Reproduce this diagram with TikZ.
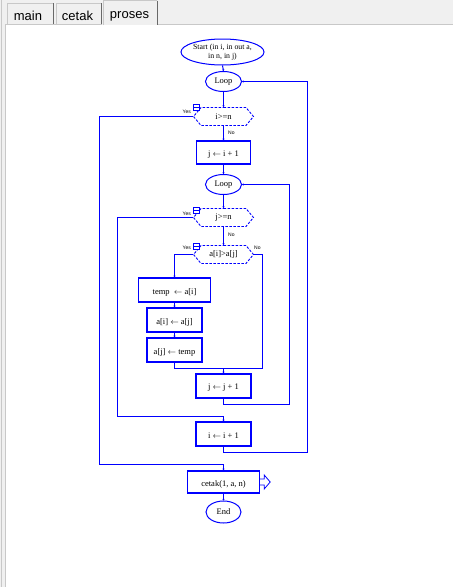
\documentclass[tikz,border=0pt]{standalone}
\usepackage{fontspec}
\setmainfont{Liberation Serif}
\newfontfamily\uifont{Liberation Sans}
\usetikzlibrary{shapes.geometric,shapes.symbols,arrows.meta}
\definecolor{fcblue}{RGB}{0,0,255}
\definecolor{uigray}{RGB}{240,240,240}
\definecolor{uidark}{RGB}{105,105,105}
\definecolor{uilight}{RGB}{200,200,200}
\newcommand{\lowtext}[1]{\raisebox{-2pt}[\height][\depth]{#1}}
\tikzset{
  fc/.style={draw=fcblue, line width=1pt},
  term/.style={ellipse, draw=fcblue, line width=1pt, inner sep=0pt, font=\fontsize{8.5}{9}\selectfont, align=center},
  procbox/.style={rectangle, draw=fcblue, line width=1.4pt, inner sep=0pt, font=\fontsize{8.5}{9}\selectfont},
  decis/.style={signal, signal to=east and west, signal pointer angle=100, draw=fcblue, dash pattern=on 2.5pt off 1.5pt, line width=0.9pt, minimum width=60pt, minimum height=18pt, inner sep=0pt, font=\fontsize{8.5}{9}\selectfont},
  conn/.style={draw=fcblue, line width=1pt, -{Stealth[length=1.6pt,width=2.2pt]}},
  tiny/.style={font=\fontsize{5}{5}\selectfont\uifont, inner sep=0pt},
  tabtext/.style={font=\fontsize{13}{14}\selectfont\uifont, inner sep=0pt},
  icon/.style={draw=fcblue, line width=0.8pt, fill=white}
}
\begin{document}
\begin{tikzpicture}[x=1pt,y=-1pt]
\useasboundingbox (0,0) rectangle (453,587);
\fill[white] (0,0) rectangle (453,587);
% tab strip
\fill[uigray] (0,0) rectangle (453,25);
\fill[uigray] (0,0) rectangle (5,587);
\draw[uilight, line width=0.8pt] (5.5,25) -- (5.5,587);
\draw[uilight, line width=0.8pt] (1.5,0) -- (1.5,587);
\draw[uilight, line width=0.8pt] (5,24.5) -- (102,24.5);
\draw[uilight, line width=0.8pt] (158,24.5) -- (453,24.5);
% tabs
\draw[uilight, line width=0.8pt] (7,25) -- (7,3) -- (53,3);
\draw[uidark, line width=1pt] (53.5,3) -- (53.5,24);
\draw[uilight, line width=0.8pt] (56,25) -- (56,3) -- (101,3);
\draw[uidark, line width=1pt] (101.5,3) -- (101.5,24);
\draw[uilight, line width=0.8pt] (103,25) -- (103,0.5) -- (157,0.5);
\draw[uidark, line width=1pt] (157.5,0.5) -- (157.5,25);
\node[tabtext, anchor=base] (tmain) at (28,20) {main};
\node[tabtext, anchor=base] (tcetak) at (77.5,20) {cetak};
\node[tabtext, anchor=base] (tproses) at (129.5,18) {proses};

% flowchart nodes
\node[term, minimum width=74pt, minimum height=26pt, font=\fontsize{7.8}{8.5}\selectfont] (start) at (222.5,52) {Start (in i, in out a,\\ in n, in j)};
\node[term, minimum width=36pt, minimum height=20pt] (loop1) at (223.5,81.5) {Loop};
\node[decis] (d1) at (223.5,116.5) {i>=n};
\node[procbox, minimum width=54pt, minimum height=23pt] (b1) at (223.5,152.5) {\lowtext{j $\leftarrow$ i + 1}};
\node[term, minimum width=36pt, minimum height=20pt] (loop2) at (223.5,184.5) {Loop};
\node[decis] (d2) at (223.5,217.5) {j>=n};
\node[decis] (d3) at (223.5,254.5) {a[i]>a[j]};
\node[procbox, minimum width=72pt, minimum height=24pt] (temp) at (174.5,290) {\lowtext{temp \ $\leftarrow$ a[i]}};
\node[procbox, minimum width=55pt, minimum height=24pt] (b2) at (174.5,320) {\lowtext{a[i] $\leftarrow$ a[j]}};
\node[procbox, minimum width=55pt, minimum height=24pt] (b3) at (174.5,350) {\lowtext{a[j] $\leftarrow$ temp}};
\node[procbox, minimum width=55pt, minimum height=24pt] (b4) at (223.5,386) {\lowtext{j $\leftarrow$ j + 1}};
\node[procbox, minimum width=55pt, minimum height=24pt] (b5) at (223.5,434) {\lowtext{i $\leftarrow$ i + 1}};
\node[procbox, minimum width=72pt, minimum height=22pt] (cetak) at (223.5,482) {\lowtext{cetak(1, a, n)}};
\node[term, minimum width=35pt, minimum height=22pt] (end) at (223.5,512) {End};

% join coordinates
\coordinate (m1) at (174.5,368.5);
\coordinate (m2) at (262.5,368.5);
\coordinate (jm) at (223.5,368.5);
\coordinate (r2) at (289.5,404.5);
\coordinate (l2) at (117.5,416.5);
\coordinate (r1) at (307.5,452.5);
\coordinate (l1) at (99.5,464.5);

% connectors
\draw[conn] (start.south) -- (loop1.north);
\draw[conn] (loop1.south) -- (d1.north);
\draw[conn] (d1.south) -- (b1.north);
\draw[conn] (b1.south) -- (loop2.north);
\draw[conn] (loop2.south) -- (d2.north);
\draw[conn] (d2.south) -- (d3.north);
\draw[conn] (d3.west) -| (temp.north);
\draw[conn] (temp.south) -- (b2.north);
\draw[conn] (b2.south) -- (b3.north);
\draw[fc] (b3.south) -- (m1) -- (m2);
\draw[fc] (d3.east) -| (m2);
\draw[conn] (jm) -- (b4.north);
\draw[conn] (b4.south) |- (r2) |- (loop2.east);
\draw[conn] (d2.west) -| (l2) -| (b5.north);
\draw[conn] (b5.south) |- (r1) |- (loop1.east);
\draw[conn] (d1.west) -| (l1) -| (cetak.north);
\draw[conn] (cetak.south) -- (end.north);

% collapse icons
\draw[icon] (193.5,104.5) rectangle (199.5,110.5); \draw[fcblue, line width=0.8pt] (193.5,107.5) -- (199.5,107.5);
\draw[icon] (193.5,207.5) rectangle (199.5,213.5); \draw[fcblue, line width=0.8pt] (193.5,210.5) -- (199.5,210.5);
\draw[icon] (193.5,243.5) rectangle (199.5,249.5); \draw[fcblue, line width=0.8pt] (193.5,246.5) -- (199.5,246.5);

% yes / no labels
\node[tiny, anchor=east] (y1) at (191,112) {Yes};
\node[tiny, anchor=west] (n1) at (228,133) {No};
\node[tiny, anchor=east] (y2) at (191,214) {Yes};
\node[tiny, anchor=west] (n2) at (228,235) {No};
\node[tiny, anchor=east] (y3) at (191,248) {Yes};
\node[tiny, anchor=west] (n3) at (254,248) {No};

% call arrow icon on cetak
\draw[fcblue, line width=0.8pt, line join=miter] (cetak.east) ++(0,-3) -- ++(4,0) -- ++(0,-4) -- ++(6,7) -- ++(-6,7) -- ++(0,-4) -- ++(-4,0);
\end{tikzpicture}
\end{document}
